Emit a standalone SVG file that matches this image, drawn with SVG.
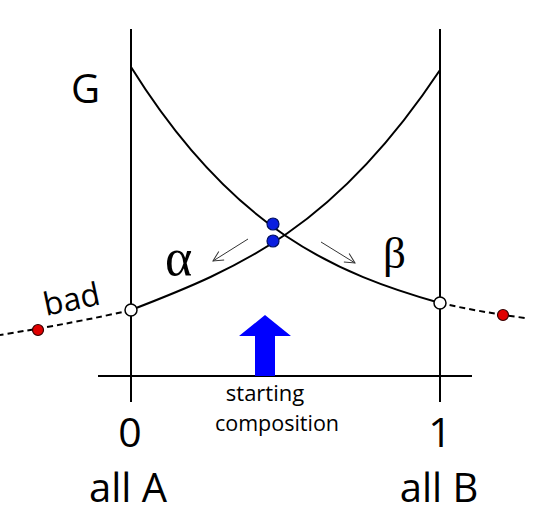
<svg xmlns="http://www.w3.org/2000/svg" width="547" height="515" viewBox="0 0 547 515">
<defs>
<marker id="open" viewBox="0 0 12 12" refX="11" refY="6" markerWidth="12" markerHeight="12" markerUnits="userSpaceOnUse" orient="auto">
<path d="M1,1 L11,6 L1,11" fill="none" stroke="#333" stroke-width="1"/>
</marker>
</defs>
<style>
.ax{stroke:#000;stroke-width:2;fill:none}
.cv{stroke:#000;stroke-width:2;fill:none}
.dash{stroke:#000;stroke-width:2;fill:none;stroke-dasharray:6,4}
.sans{font-family:"Open Sans","Liberation Sans",sans-serif;fill:#000}
.greek{font-family:"Liberation Serif","DejaVu Serif",serif;fill:#000}
.end{fill:#fff;stroke:#000;stroke-width:1.5}
.red{fill:#e00000;stroke:#300;stroke-width:1.2}
.blue{fill:#0a1ee0;stroke:#001060;stroke-width:1.2}
.thin{stroke:#333;stroke-width:1;fill:none}
</style>
<g id="axes">
<line class="ax" x1="131" y1="29" x2="131" y2="402"/>
<line class="ax" x1="440" y1="29" x2="440" y2="402"/>
<line class="ax" x1="98" y1="376" x2="472" y2="376"/>
</g>
<g id="connectors">
<path class="cv" d="M131,67 C234,232 338,274 440,303"/>
<path class="cv" d="M131,310 C240,268 335,228 440,70"/>
<path class="dash" d="M131,310 Q80,322 0,335"/>
<path class="dash" d="M440,303 Q480,312 525,318"/>
<line class="thin" x1="248" y1="239" x2="213" y2="261" marker-end="url(#open)"/>
<line class="thin" x1="321" y1="242" x2="355" y2="263" marker-end="url(#open)"/>
</g>
<g id="points">
<circle class="end" cx="131" cy="310" r="6"/>
<circle class="end" cx="440" cy="303" r="6"/>
<circle class="red" cx="38" cy="330" r="5.5"/>
<circle class="red" cx="503" cy="315" r="5.5"/>
<circle class="blue" cx="273" cy="224" r="6"/>
<circle class="blue" cx="273" cy="241" r="6"/>
</g>
<g id="start-arrow">
<path d="M255,376 L255,336 L239,336 L265,315 L291,336 L275,336 L275,376 Z" fill="#0000ff"/>
</g>
<g id="labels">
<text class="sans" x="71" y="103" font-size="40">G</text>
<text class="greek" x="165" y="275" font-size="52">α</text>
<text class="greek" x="383" y="268" font-size="45">β</text>
<text class="sans" x="46" y="316" font-size="32" transform="rotate(-12 46 316)">bad</text>
<text class="sans" x="265" y="401" font-size="22" text-anchor="middle">starting</text>
<text class="sans" x="277" y="431" font-size="21.5" text-anchor="middle">composition</text>
<text class="sans" x="130" y="447" font-size="41" text-anchor="middle">0</text>
<text class="sans" x="440" y="447" font-size="41" text-anchor="middle">1</text>
<text class="sans" x="128" y="502" font-size="40" text-anchor="middle">all A</text>
<text class="sans" x="439" y="502" font-size="40" text-anchor="middle">all B</text>
</g>
</svg>
